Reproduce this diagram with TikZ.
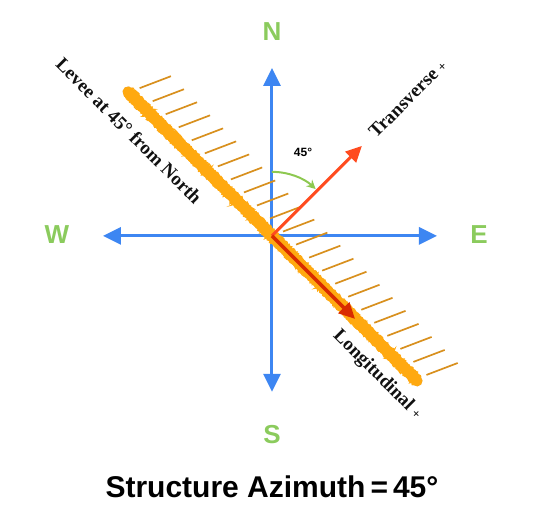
\documentclass[tikz,border=0pt]{standalone}
\usepackage{fontspec}
\setmainfont{Liberation Serif}
\setsansfont{Liberation Sans}
\usepackage{tikz}
\usetikzlibrary{arrows.meta, calc, decorations.pathmorphing}
\definecolor{axisblue}{HTML}{3D86F2}
\definecolor{compassgreen}{HTML}{8BCB5D}
\definecolor{leveeorange}{HTML}{FFA910}
\definecolor{hatchbrown}{HTML}{D8901E}
\definecolor{transred}{HTML}{FF4B1F}
\definecolor{longred}{HTML}{D92B00}
\definecolor{arcgreen}{HTML}{8DC850}
\definecolor{textdark}{HTML}{111111}

\begin{document}
\begin{tikzpicture}[font=\sffamily, >=Stealth,
    axis/.style={axisblue, line width=3pt,
      {Triangle[length=18pt,width=17pt]}-{Triangle[length=18pt,width=17pt]}},
    compass/.style={font=\sffamily\bfseries\fontsize{26}{26}\selectfont, text=compassgreen},
    vector/.style={line width=3pt, -{Triangle[length=16pt,width=15pt]}},
    hatch/.style={hatchbrown, line width=1.7pt},
    levee/.style={leveeorange, line width=11pt, line cap=round,
      decorate, decoration={random steps, segment length=2pt, amplitude=0.4pt}},
    leveeedge/.style={leveeorange, line width=1.4pt, line cap=round,
      decorate, decoration={random steps, segment length=1pt, amplitude=0.9pt}},
    tag/.style={font=\rmfamily\bfseries\fontsize{19}{19}\selectfont, text=textdark}]

  \useasboundingbox (-9.56,-9.95) rectangle (9.21,8.29);

  \coordinate (O) at (0,0);
  \coordinate (ntip) at (0,5.90);
  \coordinate (stip) at (0,-5.48);
  \coordinate (wtip) at (-5.94,0);
  \coordinate (etip) at (5.80,0);
  \coordinate (leveeA) at (-5.06,5.06);
  \coordinate (leveeB) at (5.10,-5.10);
  \coordinate (transtip) at (3.16,3.16);
  \coordinate (longtip) at (2.92,-2.92);
  \coordinate (arcstart) at (90:2.25);

  % compass axes
  \draw[axis] (stip) -- (ntip);
  \draw[axis] (wtip) -- (etip);

  % hatching on the water side
  \foreach \i in {0,...,22} {
    \pgfmathsetmacro\s{6.96-0.648*\i}
    \draw[hatch] ({-0.7071*\s+0.27},{0.7071*\s+0.27}) -- ++(1.10,0.42);
  }

  % levee crest
  \draw[black!35, opacity=0.5, line width=11pt, line cap=round, xshift=1pt, yshift=-2pt] (leveeA) -- (leveeB);
  \draw[levee] (leveeA) -- (leveeB);
  \draw[leveeedge] ([shift={(45:0.19)}]leveeA) -- ([shift={(45:0.19)}]leveeB);
  \draw[leveeedge] ([shift={(225:0.19)}]leveeA) -- ([shift={(225:0.19)}]leveeB);

  % local axes
  \draw[vector, transred] (O) -- (transtip);
  \draw[vector, longred, line width=3.5pt] (O) -- (longtip);
  \draw[arcgreen, line width=2pt, -{Stealth[length=9pt,width=9pt]}]
    (arcstart) arc[start angle=90, end angle=47, radius=2.25];

  \node (nlabel) [compass] at (0,7.17) {N};
  \node (slabel) [compass] at (0,-6.99) {S};
  \node (wlabel) [compass] at (-7.56,0.04) {W};
  \node (elabel) [compass] at (7.28,0.04) {E};

  \node (anglelabel) [font=\sffamily\bfseries\fontsize{12}{12}\selectfont] at (1.09,2.95) {45°};
  \node (leveelabel) [tag, rotate=-45] at (-5.02,3.69) {Levee at 45° from North};
  \node (translabel) [tag, rotate=45] at (4.77,4.82) {Transverse {\fontsize{13}{13}\selectfont +}};
  \node (longlabel) [tag, rotate=-45] at (3.71,-4.89) {Longitudinal {\fontsize{13}{13}\selectfont +}};

  \node (title) [font=\sffamily\bfseries\fontsize{30}{30}\selectfont] at (0,-8.82)
    {Structure Azimuth\,=\,45°};
\end{tikzpicture}
\end{document}
